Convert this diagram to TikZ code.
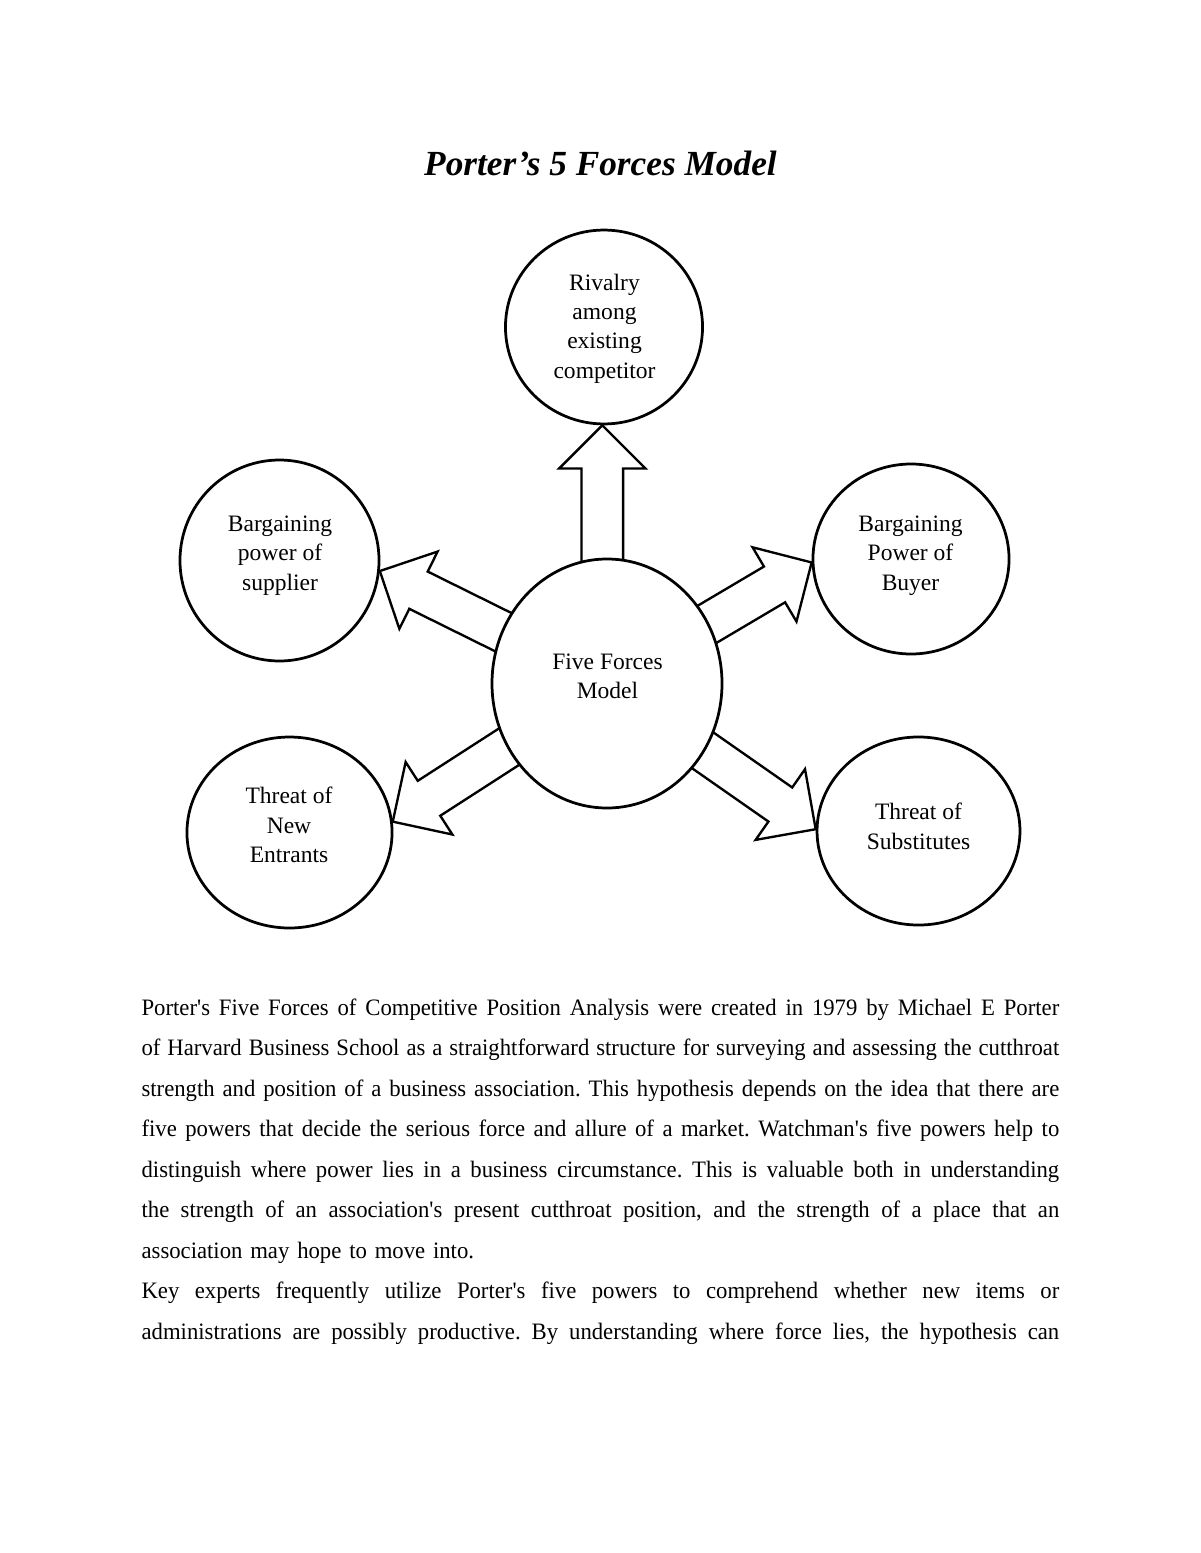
\documentclass[tikz,border=0pt]{standalone}
\usepackage{fontspec}
\setmainfont{Liberation Serif}
\newfontfamily\bodyfont{Liberation Serif}[FakeStretch=0.965]
\usetikzlibrary{shapes.geometric,calc,backgrounds}
\newcommand{\aps}{\textquotesingle}
\newcommand{\jline}[1]{\hbox to 468pt{\spaceskip=2.9pt plus 1fil minus 1.2pt\relax #1}}
\def\arrSW{10.6pt}
\def\arrHW{22pt}
\def\arrHL{22pt}
% #1 base coordinate, #2 tip coordinate, #3 name prefix
\newcommand{\blockarrow}[3]{%
  \coordinate (#3h) at ($(#2)!\arrHL!(#1)$);
  \draw[blockarr] ($(#1)!\arrSW!90:(#2)$) -- ($(#3h)!\arrSW!90:(#2)$)
    -- ($(#3h)!\arrHW!90:(#2)$) -- (#2) -- ($(#3h)!\arrHW!-90:(#2)$)
    -- ($(#3h)!\arrSW!-90:(#2)$) -- ($(#1)!\arrSW!-90:(#2)$) -- cycle;
}
\begin{document}
\begin{tikzpicture}[x=0.51pt,y=-0.51pt,
  ring/.style={ellipse, draw, line width=1.4pt, fill=white, inner sep=0pt},
  lbl/.style={align=center, inner sep=0pt, font=\fontsize{12}{15}\selectfont},
  blockarr/.style={draw, line width=1.2pt, fill=white, line join=miter},
  ttlstyle/.style={anchor=base, inner sep=0pt, font=\fontsize{18}{21}\selectfont\bfseries\itshape},
  para/.style={anchor=base west, inner sep=0pt, text width=468pt, font=\bodyfont\fontsize{12}{20.66}\selectfont\frenchspacing}
]
\useasboundingbox (0,0) rectangle (1200,1553);

% title
\node[ttlstyle] (ttl) at (600.5,176) {Porter’s 5 Forces Model};

% circles
\node[ring, minimum width=100.5pt, minimum height=98.9pt] (riv) at (604,327) {};
\node[ring, minimum width=101.5pt, minimum height=102.5pt] (sup) at (279.5,560.5) {};
\node[ring, minimum width=100pt, minimum height=96.9pt] (buy) at (911,559) {};
\node[ring, minimum width=104.6pt, minimum height=97.4pt] (ent) at (289.5,832.5) {};
\node[ring, minimum width=103.5pt, minimum height=95.9pt] (sub) at (918.5,831) {};
\node[ring, minimum width=117.3pt, minimum height=127pt] (ctr) at (607,683.5) {};

% labels
\node[lbl] (rivt) at (604.5,328.5) {Rivalry\\among\\existing\\competitor};
\node[lbl] (supt) at (280,555.5) {Bargaining\\power of\\supplier};
\node[lbl] (buyt) at (910.5,555.5) {Bargaining\\Power of\\Buyer};
\node[lbl] (entt) at (289,825) {Threat of\\New\\Entrants};
\node[lbl] (subt) at (918.5,826.5) {Threat of\\Substitutes};
\node[lbl] (ctrt) at (607.5,676.5) {Five Forces\\Model};

% arrow end points
\coordinate (tR) at (riv.-91.5);
\coordinate (bR) at (tR |- ctr.center);
\coordinate (tS) at (sup.-6);
\coordinate (tB) at (buy.182);
\coordinate (tE) at (ent.6);
\coordinate (tU) at (sub.179);

\begin{pgfonlayer}{background}
  \fill[white] (0,0) rectangle (1200,1553);
  \blockarrow{bR}{tR}{aR}
  \blockarrow{ctr.center}{tS}{aS}
  \blockarrow{ctr.center}{tB}{aB}
  \blockarrow{ctr.center}{tE}{aE}
  \blockarrow{ctr.center}{tU}{aU}
\end{pgfonlayer}

% body text
\node[para] (body) at (141.2,1015) {%
\jline{Porter\aps s Five Forces of Competitive Position Analysis were created in 1979 by Michael E Porter}\par
\jline{of Harvard Business School as a straightforward structure for surveying and assessing the cutthroat}\par
\jline{strength and position of a business association. This hypothesis depends on the idea that there are}\par
\jline{five powers that decide the serious force and allure of a market. Watchman\aps s five powers help to}\par
\jline{distinguish where power lies in a business circumstance. This is valuable both in understanding}\par
\jline{the strength of an association\aps s present cutthroat position, and the strength of a place that an}\par
association may hope to move into.\par
\jline{Key experts frequently utilize Porter\aps s five powers to comprehend whether new items or}\par
\jline{administrations are possibly productive. By understanding where force lies, the hypothesis can}};
\end{tikzpicture}
\end{document}
